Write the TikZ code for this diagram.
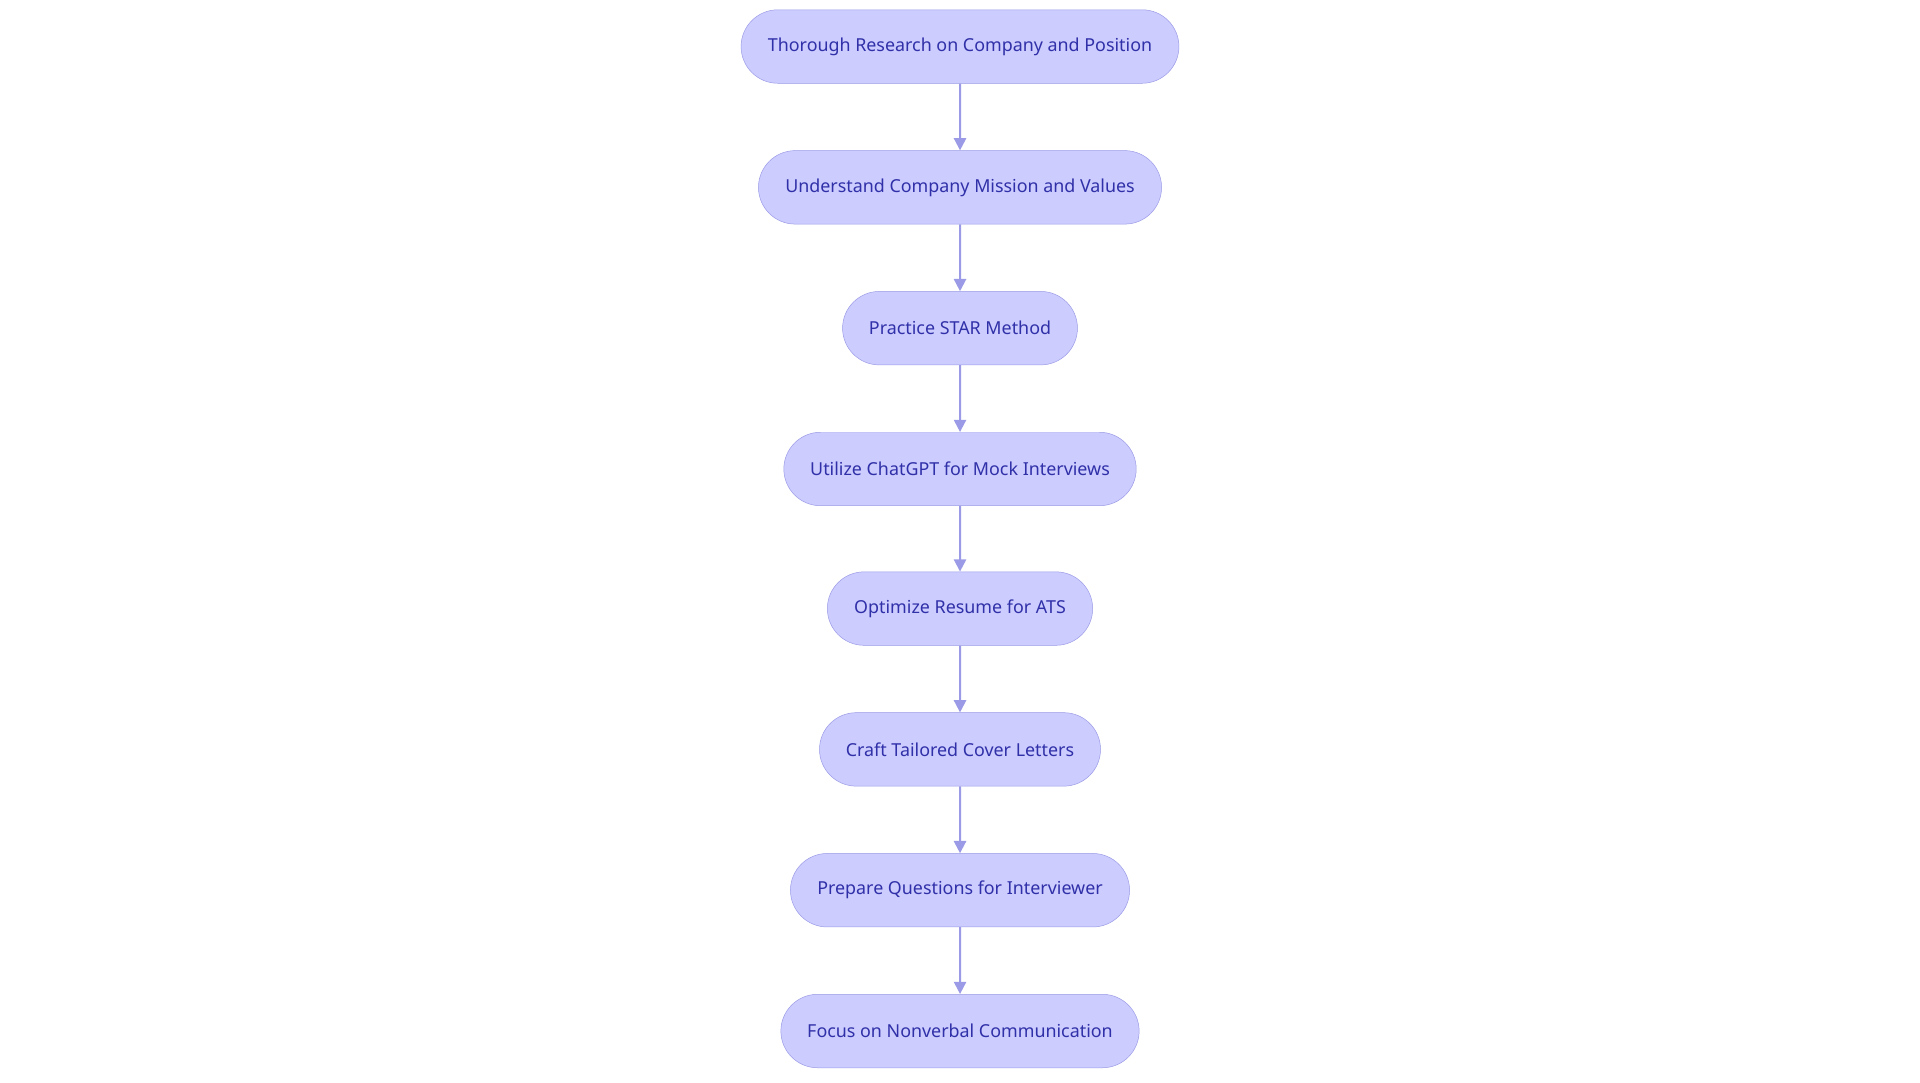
\documentclass[tikz,border=0pt]{standalone}
\usepackage{fontspec}
\setmainfont{Noto Sans}
\usetikzlibrary{shapes.misc,arrows.meta}
\definecolor{boxfill}{HTML}{CCCCFF}
\definecolor{boxline}{HTML}{9A9AE6}
\definecolor{boxtext}{HTML}{3030A8}
\begin{document}
\begin{tikzpicture}[x=1pt,y=-1pt]
%style for step box
\tikzstyle{stepbox} = [rounded rectangle, fill=boxfill, draw=boxline, text=boxtext, minimum height=60pt, inner xsep=21pt, font=\fontsize{14.6}{17}\selectfont]

%style for connector
\tikzstyle{link} = [draw=boxline, line width=1.6pt, -{Triangle[length=10pt,width=10pt]}]

\useasboundingbox (0,0) rectangle (1568,884);

%place nodes
\node[stepbox] (n1) at (784,38) {Thorough Research on Company and Position};
\node[stepbox] (n2) at (784,153) {Understand Company Mission and Values};
\node[stepbox] (n3) at (784,268) {Practice STAR Method};
\node[stepbox] (n4) at (784,383) {Utilize ChatGPT for Mock Interviews};
\node[stepbox] (n5) at (784,497) {Optimize Resume for ATS};
\node[stepbox] (n6) at (784,612) {Craft Tailored Cover Letters};
\node[stepbox] (n7) at (784,727) {Prepare Questions for Interviewer};
\node[stepbox] (n8) at (784,842) {Focus on Nonverbal Communication};

\foreach \a/\b in {n1/n2,n2/n3,n3/n4,n4/n5,n5/n6,n6/n7,n7/n8}
  \draw[link] (\a) -- (\b);
\end{tikzpicture}
\end{document}
